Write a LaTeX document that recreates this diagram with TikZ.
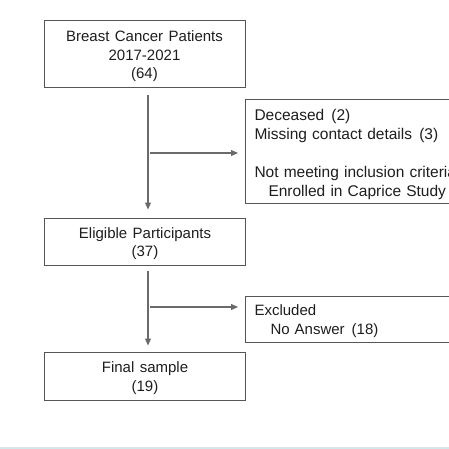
\documentclass[tikz,border=0pt]{standalone}
\usepackage{fontspec}
\setmainfont{Liberation Sans}[WordSpace=1.3]
\usetikzlibrary{arrows.meta}
\definecolor{boxgray}{HTML}{555555}
\definecolor{arrgray}{HTML}{6A6A6A}
\definecolor{txt}{HTML}{1E1E1E}
\definecolor{band}{HTML}{C5EEF3}
\newcommand{\fsz}{\fontsize{15}{18.7}\selectfont}
\newcommand{\fszb}{\fontsize{15.5}{19}\selectfont}
\newcommand{\ps}{\hspace{2pt}}
\newcommand{\topstrut}[1]{\rule{0pt}{#1}}
\tikzset{
  box/.style={draw=boxgray, line width=1pt, minimum width=201pt, inner sep=0pt, align=center, font=\fsz, text=txt},
  side/.style={draw=boxgray, line width=1pt, minimum width=240pt, text width=222pt, inner xsep=9pt, inner ysep=0pt, align=left, font=\fsz, text=txt, anchor=north west},
  arr/.style={draw=arrgray, line width=1.1pt, -{Triangle[length=7pt,width=6pt]}}
}
\begin{document}
\begin{tikzpicture}[x=1pt,y=-1pt]
\useasboundingbox (0,0) rectangle (449,449);
\clip (0,0) rectangle (449,449);
\fill[white] (0,0) rectangle (449,449);
\fill[band] (0,446.5) rectangle (449,449);
\node[box, minimum height=67pt] (b1) at (144.5,54.5) {\topstrut{14.5pt}Breast Cancer Patients\\2017-2021\\(64)};
\node[side, font=\fszb, minimum height=104pt] (b2) at (245,99) {\topstrut{17pt}Deceased \ps(2)\\Missing contact details \ps(3)\\[19pt]Not meeting inclusion criteria\\\hspace*{14pt}Enrolled in Caprice Study};
\node[box, minimum height=47pt] (b3) at (145,241.5) {\topstrut{15pt}Eligible Participants\\(37)};
\node[side, minimum height=46pt] (b4) at (245,296) {\topstrut{14pt}Excluded\\\hspace*{16pt}No Answer \ps(18)};
\node[box, minimum height=48pt] (b5) at (145,376) {\topstrut{15pt}Final sample\\(19)};
\draw[arr] ([xshift=3.5pt,yshift=-7pt]b1.south) -- ([xshift=3pt,yshift=8pt]b3.north);
\coordinate (h1) at (150,153);
\draw[arr, shorten >=7pt] (h1) -- (h1 -| b2.west);
\draw[arr] ([xshift=3pt,yshift=-5pt]b3.south) -- ([xshift=3pt,yshift=6pt]b5.north);
\coordinate (h2) at (150,307);
\draw[arr, shorten >=7pt] (h2) -- (h2 -| b4.west);
\end{tikzpicture}
\end{document}
